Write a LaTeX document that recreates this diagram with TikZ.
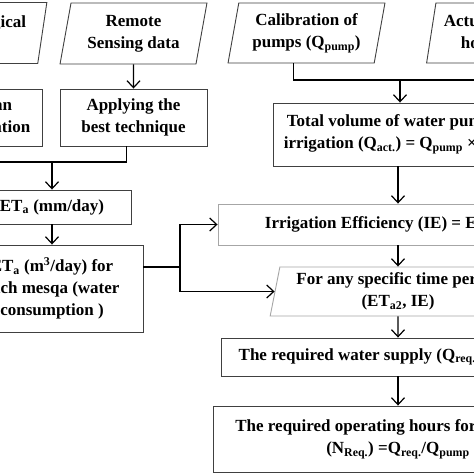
\documentclass[tikz,border=0pt]{standalone}
\usepackage{fontspec}
\setmainfont{Liberation Serif}
\usetikzlibrary{arrows.meta,shapes.geometric}

\tikzset{
  box/.style={draw=black!75,line width=0.9pt,align=center,inner sep=2pt},
  databox/.style={trapezium,trapezium left angle=78,trapezium right angle=102,
    trapezium stretches=true,draw=black!75,line width=0.9pt,align=center,inner sep=1pt},
  link/.style={line width=1.3pt},
  flow/.style={link,-{Straight Barb[length=7pt,width=13pt,line width=1.2pt]}}
}

\begin{document}
\begin{tikzpicture}[x=1pt,y=-1pt,font=\fontsize{17}{22}\selectfont\bfseries]
  \useasboundingbox (0,0) rectangle (474,474);
  \fill[white] (0,0) rectangle (474,474);
  \clip (0,0) rectangle (474,474);

  % inputs
  \node[databox,minimum width=150pt,minimum height=61pt] (met) at (-28,33) {Meteorological\\data};
  \node[databox,minimum width=147pt,minimum height=61pt] (remote) at (133.5,33.5) {Remote\\Sensing data};
  \node[databox,minimum width=157pt,minimum height=60pt] (calib) at (306.5,33) {Calibration of\\pumps (Q\textsubscript{pump})};
  \node[databox,minimum width=157pt,minimum height=60pt] (actual) at (505,33) {Actual operating\\hours (N\textsubscript{act.})};

  % left column
  \node[box,minimum width=158pt,minimum height=57pt] (penman) at (-37,117.5) {FAO Penman\\Monteith equation};
  \node[box,minimum width=147pt,minimum height=57pt] (apply) at (133.5,117.5) {Applying the\\best technique};
  \node[box,minimum width=158pt,minimum height=34pt] (etmm) at (52,207) {ET\textsubscript{a} (mm/day)};
  \node[box,minimum width=182pt,minimum height=87pt] (etm3) at (52,288.5) {ET\textsubscript{a} (m\textsuperscript{3}/day) for\\each mesqa (water\\consumption )};

  % right column
  \node[box,minimum width=250pt,minimum height=63pt] (total) at (398,134.5) {Total volume of water pumped\\irrigation (Q\textsubscript{act.}) = Q\textsubscript{pump} × N\textsubscript{act.}};
  \node[box,draw=gray!70,minimum width=360pt,minimum height=41pt] (ie) at (398,224.5) {Irrigation Efficiency (IE) = ET\textsubscript{a}/Q\textsubscript{act.}};
  \node[databox,draw=gray!70,minimum width=256pt,minimum height=49pt] (period) at (398,291.5) {For any specific time period\\(ET\textsubscript{a2}, IE)};
  \node[box,minimum width=354pt,minimum height=38pt] (supply) at (398,357) {The required water supply (Q\textsubscript{req.}) = ET\textsubscript{a2}/IE};
  \node[box,minimum width=370pt,minimum height=66pt] (hours) at (398,439) {The required operating hours for each pump\\(N\textsubscript{Req.}) =Q\textsubscript{req.}/Q\textsubscript{pump}};

  \coordinate (joinL) at (52,162);
  \coordinate (joinR) at (400,80);
  \coordinate (split) at (180,267);

  \draw[flow] (remote) -- (apply);
  \draw[link] (penman.south) |- (joinL) -| ([xshift=-7pt]apply.south);
  \draw[flow] (joinL) -- (etmm.north);
  \draw[flow] (etmm) -- (etm3);
  \draw[link] (etm3.east |- split) -- (split);
  \draw[flow] (split) |- (ie.west);
  \draw[flow] (split) |- (period.west);

  \draw[link] ([xshift=-13pt]calib.south) |- (joinR);
  \draw[link] (actual.south) |- (joinR);
  \draw[flow] (joinR) -- (joinR |- total.north);
  \draw[flow] (total) -- (ie);
  \draw[flow] (ie) -- (period);
  \draw[flow] (period) -- (supply);
  \draw[flow] (supply) -- (hours);
\end{tikzpicture}
\end{document}
